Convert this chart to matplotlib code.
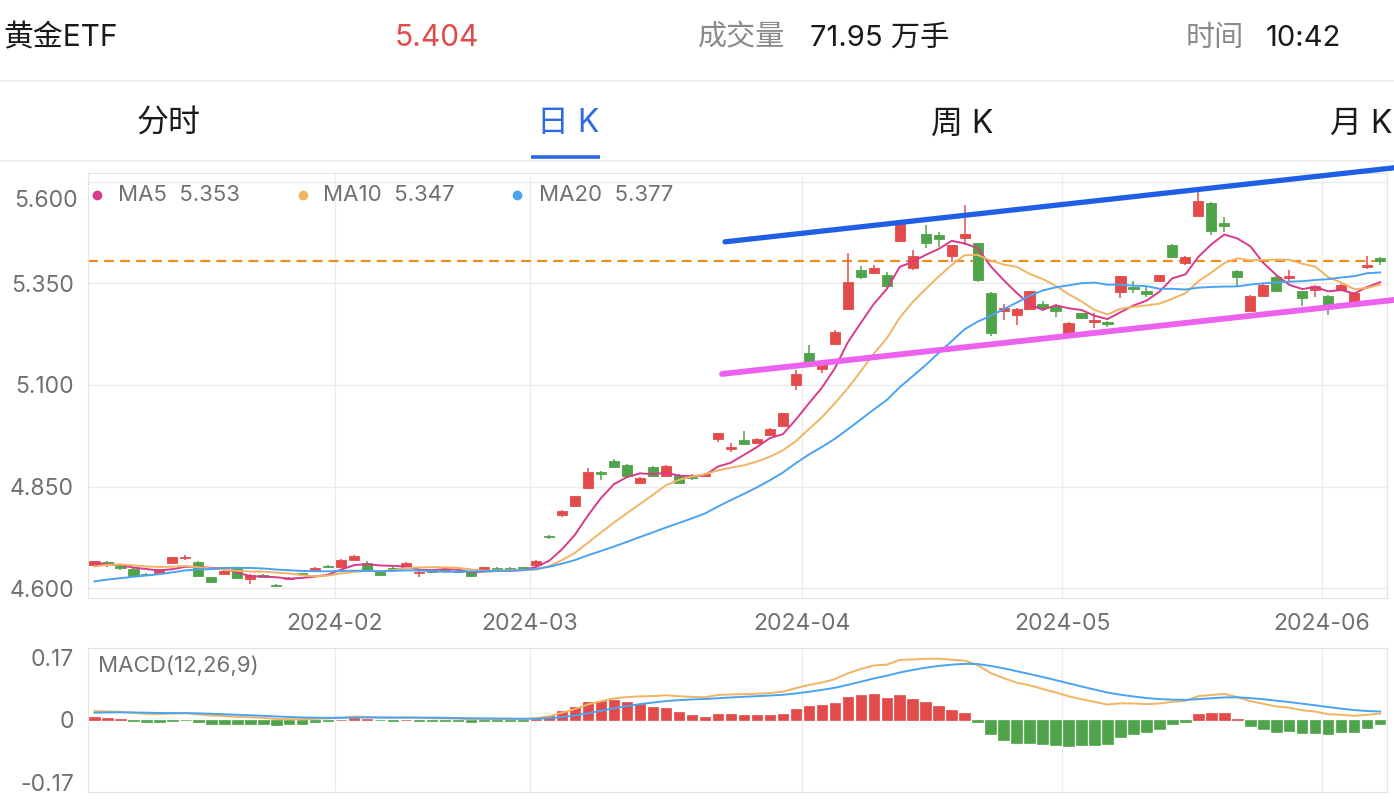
import matplotlib
matplotlib.use("Agg")
import matplotlib.pyplot as plt
from matplotlib.lines import Line2D
import pandas as pd

# ---- data ----
START_DATE = "2024-01-05"
END_DATE = "2024-06-07"
# weekday market holidays (spring festival, qingming, labour day)
HOLIDAYS = ["2024-02-09", "2024-02-12", "2024-02-13", "2024-02-14", "2024-02-15",
            "2024-02-16", "2024-04-04", "2024-04-05", "2024-05-01", "2024-05-02",
            "2024-05-03"]

# closes before the first visible candle (only used to warm up MA / MACD)
PRIOR_CLOSE = [4.57, 4.58, 4.56, 4.57, 4.58, 4.59, 4.58, 4.59, 4.59, 4.59,
               4.62, 4.64, 4.65, 4.66, 4.66, 4.67, 4.66, 4.66, 4.65]

OPEN = [4.658, 4.665, 4.654, 4.648, 4.634, 4.637, 4.663, 4.674, 4.664, 4.627,
        4.635, 4.649, 4.623, 4.633, 4.608, 4.622, 4.637, 4.644, 4.655, 4.651,
        4.670, 4.661, 4.641, 4.650, 4.651, 4.637, 4.642, 4.648, 4.643, 4.640,
        4.644, 4.650, 4.650, 4.651, 4.657, 4.728, 4.781, 4.803, 4.846, 4.887,
        4.914, 4.903, 4.860, 4.898, 4.877, 4.879, 4.874, 4.876, 4.967, 4.943,
        4.965, 4.958, 4.976, 5.000, 5.101, 5.178, 5.138, 5.201, 5.286, 5.383,
        5.376, 5.371, 5.453, 5.387, 5.471, 5.469, 5.417, 5.461, 5.449, 5.326,
        5.282, 5.271, 5.287, 5.300, 5.293, 5.223, 5.276, 5.255, 5.254, 5.328,
        5.342, 5.330, 5.356, 5.444, 5.401, 5.516, 5.548, 5.499, 5.381, 5.283,
        5.319, 5.366, 5.364, 5.330, 5.334, 5.319, 5.334, 5.303, 5.390, 5.413]
HIGH = [4.668, 4.667, 4.656, 4.649, 4.637, 4.648, 4.677, 4.681, 4.666, 4.628,
        4.644, 4.652, 4.634, 4.634, 4.610, 4.627, 4.638, 4.651, 4.656, 4.671,
        4.681, 4.666, 4.642, 4.651, 4.664, 4.642, 4.643, 4.649, 4.645, 4.641,
        4.653, 4.651, 4.651, 4.652, 4.669, 4.732, 4.792, 4.827, 4.895, 4.888,
        4.918, 4.905, 4.873, 4.900, 4.902, 4.880, 4.880, 4.884, 4.983, 4.957,
        4.987, 4.969, 4.993, 5.032, 5.136, 5.198, 5.161, 5.235, 5.424, 5.392,
        5.396, 5.377, 5.504, 5.432, 5.494, 5.476, 5.445, 5.543, 5.450, 5.328,
        5.299, 5.288, 5.332, 5.307, 5.298, 5.254, 5.278, 5.276, 5.258, 5.368,
        5.355, 5.340, 5.371, 5.446, 5.416, 5.575, 5.550, 5.512, 5.383, 5.320,
        5.350, 5.367, 5.383, 5.331, 5.346, 5.320, 5.349, 5.327, 5.417, 5.414]
LOW = [4.656, 4.652, 4.644, 4.629, 4.630, 4.636, 4.662, 4.670, 4.630, 4.615,
       4.634, 4.624, 4.610, 4.627, 4.603, 4.621, 4.633, 4.643, 4.650, 4.650,
       4.669, 4.645, 4.632, 4.644, 4.650, 4.627, 4.639, 4.644, 4.637, 4.628,
       4.643, 4.645, 4.645, 4.647, 4.656, 4.722, 4.774, 4.802, 4.845, 4.867,
       4.896, 4.876, 4.859, 4.874, 4.876, 4.858, 4.866, 4.875, 4.960, 4.934,
       4.954, 4.957, 4.975, 4.999, 5.088, 5.152, 5.130, 5.200, 5.285, 5.360,
       5.374, 5.338, 5.452, 5.383, 5.436, 5.440, 5.403, 5.444, 5.354, 5.221,
       5.260, 5.248, 5.286, 5.281, 5.268, 5.222, 5.263, 5.239, 5.243, 5.313,
       5.326, 5.316, 5.355, 5.412, 5.395, 5.515, 5.470, 5.477, 5.344, 5.282,
       5.318, 5.330, 5.354, 5.294, 5.316, 5.272, 5.330, 5.302, 5.384, 5.395]
CLOSE = [4.666, 4.659, 4.649, 4.630, 4.632, 4.647, 4.676, 4.678, 4.631, 4.616,
         4.643, 4.625, 4.633, 4.628, 4.606, 4.626, 4.634, 4.649, 4.651, 4.670,
         4.680, 4.646, 4.633, 4.645, 4.663, 4.641, 4.640, 4.645, 4.639, 4.629,
         4.652, 4.647, 4.647, 4.648, 4.668, 4.726, 4.790, 4.826, 4.886, 4.881,
         4.897, 4.877, 4.872, 4.875, 4.901, 4.859, 4.872, 4.882, 4.982, 4.948,
         4.955, 4.968, 4.992, 5.031, 5.127, 5.154, 5.160, 5.230, 5.352, 5.365,
         5.387, 5.344, 5.503, 5.416, 5.449, 5.460, 5.444, 5.471, 5.358, 5.228,
         5.289, 5.287, 5.330, 5.290, 5.283, 5.253, 5.265, 5.260, 5.249, 5.367,
         5.336, 5.324, 5.370, 5.415, 5.414, 5.552, 5.479, 5.490, 5.366, 5.319,
         5.346, 5.331, 5.369, 5.314, 5.344, 5.293, 5.347, 5.326, 5.394, 5.404]

LAST_PRICE = 5.404
VOLUME_TEXT = "71.95 万手"
TIME_TEXT = "10:42"
TABS = ["分时", "日 K", "周 K", "月 K"]
ACTIVE_TAB = 1
Y_TICKS = [4.600, 4.850, 5.100, 5.350, 5.600]
MACD_TICKS = [-0.17, 0, 0.17]
MACD_TICK_LABELS = ["-0.17", "0", "0.17"]

# hand drawn trend lines: (candle index, price) endpoints
UPPER_TREND = [(48.55, 5.452), (100.06, 5.634)]
LOWER_TREND = [(48.32, 5.127), (100.06, 5.309)]

# ---- style ----
W, H = 1394, 810
RED = "#e34b4b"
GREEN = "#4fa449"
MA_COLORS = {"MA5": "#d93a8a", "MA10": "#f0b463", "MA20": "#4aa3f2"}
GRID = "#ebebeb"
TXT_GRAY = "#707070"
FONT = ["Inter", "Noto Sans CJK SC", "DejaVu Sans"]


def fx(px):
    return px / W


def fy(py):
    return 1 - py / H


def candle_colors(opens, closes):
    return [RED if c >= o else GREEN for o, c in zip(opens, closes)]


def main():
    plt.rcParams['font.family'] = FONT

    dates = pd.bdate_range(START_DATE, END_DATE, freq="C", holidays=HOLIDAYS)
    n = len(CLOSE)
    x = list(range(n))

    closes_all = pd.Series(PRIOR_CLOSE + CLOSE)
    mas = {}
    for name, w in (("MA5", 5), ("MA10", 10), ("MA20", 20)):
        mas[name] = closes_all.rolling(w).mean().iloc[-n:].values
    ema12 = closes_all.ewm(span=12, adjust=False).mean()
    ema26 = closes_all.ewm(span=26, adjust=False).mean()
    dif = ema12 - ema26
    dea = dif.ewm(span=9, adjust=False).mean()
    hist = (2 * (dif - dea)).iloc[-n:].values
    dif = dif.iloc[-n:].values
    dea = dea.iloc[-n:].values

    months = pd.Series(dates.strftime("%Y-%m"))
    month_start = [i for i in range(1, n) if months[i] != months[i - 1]]
    month_labels = [months[i] for i in month_start]
    month_pos = [i - 0.5 for i in month_start]

    fig = plt.figure(figsize=(W / 100, H / 100), dpi=100)
    fig.patch.set_facecolor("white")

    # header row
    hy = fy(38)
    fig.text(fx(3), hy, "黄金ETF", fontsize=21.5, color="#1a1a1a", va="center")
    fig.text(fx(395), hy, "%.3f" % LAST_PRICE, fontsize=21.5, color=RED, va="center")
    fig.text(fx(698), hy, "成交量", fontsize=21, color="#8a8a8a", va="center")
    fig.text(fx(810), hy, VOLUME_TEXT, fontsize=21, color="#1a1a1a", va="center")
    fig.text(fx(1186), hy, "时间", fontsize=21, color="#8a8a8a", va="center")
    fig.text(fx(1266), hy, TIME_TEXT, fontsize=21, color="#1a1a1a", va="center")
    fig.add_artist(Line2D([0, 1], [fy(81), fy(81)], color="#eeeeee", lw=1.5))

    # tabs
    tab_x = [169, 568, 962, 1361]
    for i, (t, px) in enumerate(zip(TABS, tab_x)):
        col = "#2d6ae3" if i == ACTIVE_TAB else "#1a1a1a"
        fig.text(fx(px), fy(124), t, fontsize=23, color=col, ha="center", va="center")
    fig.add_artist(Line2D([fx(531), fx(600)], [fy(157), fy(157)], color="#2d6ae3", lw=2.6,
                          solid_capstyle="butt"))
    fig.add_artist(Line2D([0, 1], [fy(160.5), fy(160.5)], color="#eeeeee", lw=1.5))

    # main K-line panel
    ax = fig.add_axes([fx(88), fy(597.7), fx(1386.7) - fx(88), fy(172.7) - fy(597.7)])
    ax2 = fig.add_axes([fx(88), fy(791.7), fx(1386.7) - fx(88), fy(648.3) - fy(791.7)])

    cols = candle_colors(OPEN, CLOSE)
    bottoms = [min(o, c) for o, c in zip(OPEN, CLOSE)]
    heights = [max(abs(c - o), 0.0012) for o, c in zip(OPEN, CLOSE)]
    ax.vlines(x, LOW, HIGH, colors=cols, lw=1.1, zorder=3)
    ax.bar(x, heights, bottom=bottoms, width=0.78, color=cols, edgecolor=cols, lw=0.6, zorder=4)

    for name, vals in mas.items():
        ax.plot(x, vals, color=MA_COLORS[name], lw=1.4, zorder=5)

    ax.axhline(LAST_PRICE, color="#f08a1c", lw=1.5, ls=(0, (4.8, 2.9)), zorder=2)

    (x0, y0), (x1, y1) = UPPER_TREND
    ax.plot([x0, x1], [y0, y1], color="#1f5fe6", lw=3.8, solid_capstyle="round",
            clip_on=False, zorder=6)
    (x0, y0), (x1, y1) = LOWER_TREND
    ax.plot([x0, x1], [y0, y1], color="#ec62ee", lw=4.2, solid_capstyle="round",
            clip_on=False, zorder=6)

    ax.set_xlim(-0.5, n - 0.5)
    ax.set_ylim(4.5767, 5.622)
    ax.set_yticks(Y_TICKS)
    # top label sits just under its grid line, as in the app
    ax.set_yticklabels(["%.3f" % v for v in Y_TICKS[:-1]] + [""])
    ax.annotate("%.3f" % Y_TICKS[-1], xy=(0, Y_TICKS[-1]), xycoords=("axes fraction", "data"),
                xytext=(-7.2, -14), textcoords="offset points", ha="right", va="center",
                fontsize=16.5, color=TXT_GRAY)
    ax.set_xticks(month_pos)
    ax.set_xticklabels(month_labels)
    ax.tick_params(length=0, labelsize=16.5, labelcolor=TXT_GRAY)
    ax.tick_params(axis="y", pad=10)
    ax.tick_params(axis="x", pad=11)
    ax.grid(True, color=GRID, lw=1)
    ax.set_axisbelow(True)
    for sp in ax.spines.values():
        sp.set_color("#e3e3e3")

    # MA legend
    ly = (597.7 - 195) / 425.0
    for (name, vals), dot_px, txt_px in zip(mas.items(), [97, 303, 517], [118, 323, 539]):
        ax.plot([(dot_px - 88) / 1298.7], [ly], "o", ms=6, color=MA_COLORS[name],
                transform=ax.transAxes, zorder=7)
        ax.text((txt_px - 88) / 1298.7, ly, "%s  %.3f" % (name, vals[-1]),
                transform=ax.transAxes, fontsize=16, color=TXT_GRAY, va="center", zorder=7)

    # MACD panel
    hist_cols = [RED if h >= 0 else GREEN for h in hist]
    ax2.bar(x, hist, width=0.8, color=hist_cols, edgecolor=hist_cols, lw=0.5, zorder=3)
    ax2.plot(x, dif, color=MA_COLORS["MA10"], lw=1.4, zorder=4)
    ax2.plot(x, dea, color=MA_COLORS["MA20"], lw=1.4, zorder=4)
    ax2.set_xlim(-0.5, n - 0.5)
    ax2.set_ylim(-0.195, 0.195)
    ax2.set_yticks(MACD_TICKS)
    ax2.set_yticklabels(MACD_TICK_LABELS)
    ax2.set_xticks(month_pos)
    ax2.set_xticklabels([])
    ax2.tick_params(length=0, labelsize=16.5, labelcolor=TXT_GRAY)
    ax2.tick_params(axis="y", pad=10)
    ax2.grid(True, axis="x", color=GRID, lw=1)
    ax2.set_axisbelow(True)
    for sp in ax2.spines.values():
        sp.set_color("#e3e3e3")
    ax2.text((98 - 88) / 1298.7, (791.7 - 666) / 143.4, "MACD(12,26,9)",
             transform=ax2.transAxes, fontsize=16, color=TXT_GRAY, va="center")

    fig.savefig("out.png", dpi=100, facecolor="white")


if __name__ == '__main__':
    main()
